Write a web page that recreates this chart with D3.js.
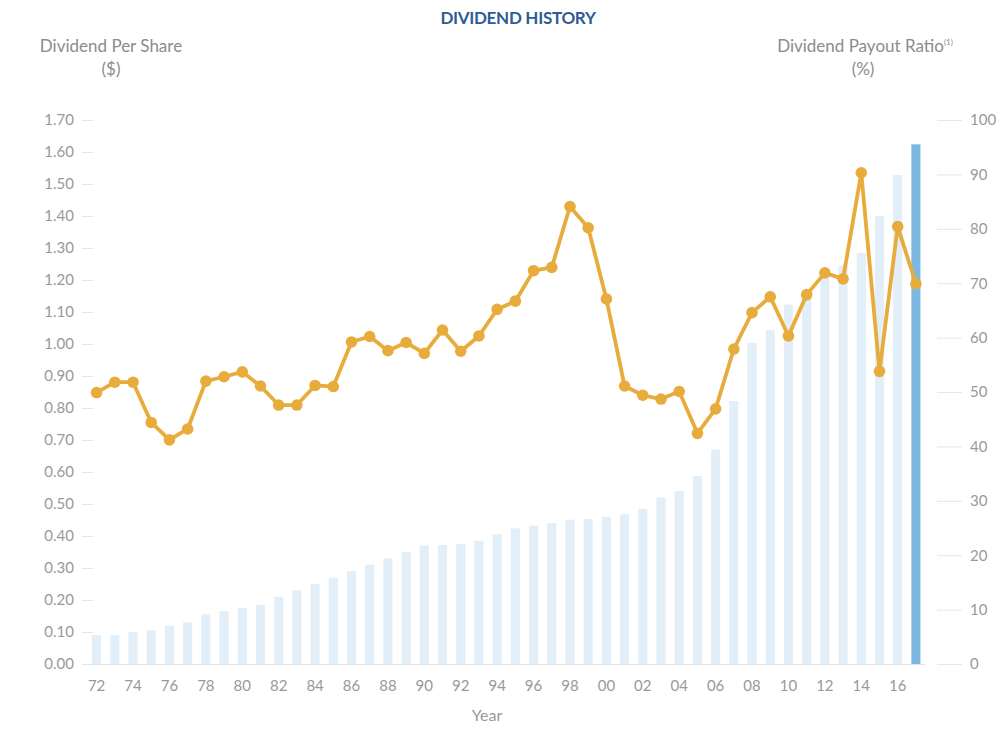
<!DOCTYPE html>
<html>
<head>
<meta charset="utf-8">
<script src="https://cdn.jsdelivr.net/npm/d3@7"></script>
<style>
  body { margin: 0; background: #fff; }
  text { font-family: Lato, "Open Sans", sans-serif; }
</style>
</head>
<body>
<div id="wrapper"></div>
<script>
// dados
const years = d3.range(1972, 2018);
const dividendPerShare = [
  0.09, 0.09, 0.10, 0.105, 0.12, 0.13, 0.155, 0.165, 0.175, 0.185,
  0.21, 0.23, 0.25, 0.27, 0.29, 0.31, 0.33, 0.35, 0.37, 0.372,
  0.375, 0.385, 0.405, 0.424, 0.432, 0.44, 0.451, 0.453, 0.46, 0.468,
  0.485, 0.52, 0.54, 0.587, 0.67, 0.822, 1.004, 1.044, 1.123, 1.16,
  1.206, 1.245, 1.284, 1.40, 1.528, 1.624
];
const payoutRatio = [
  49.9, 51.8, 51.8, 44.4, 41.2, 43.2, 52.0, 52.8, 53.7, 51.1,
  47.6, 47.6, 51.2, 51.0, 59.2, 60.2, 57.6, 59.1, 57.1, 61.4,
  57.5, 60.3, 65.2, 66.7, 72.3, 72.9, 84.1, 80.2, 67.1, 51.1,
  49.4, 48.7, 50.1, 42.4, 46.9, 57.9, 64.6, 67.5, 60.3, 67.9,
  71.9, 70.8, 90.3, 53.8, 80.4, 69.9
];
const leftTicks = d3.range(0, 1.71, 0.1);
const rightTicks = d3.range(0, 101, 10);

function draw() {
  const width = 1005;
  const height = 734;
  const plot = { top: 120, bottom: 664, left: 87.5, right: 925 };

  const svg = d3.select("#wrapper")
    .append("svg")
    .attr("width", width)
    .attr("height", height);

  // Escalas
  const x = d3.scaleBand()
    .domain(years)
    .range([plot.left, plot.right])
    .paddingInner(0.5)
    .paddingOuter(0.25);
  const yLeft = d3.scaleLinear().domain([0, 1.7]).range([plot.bottom, plot.top]);
  const yRight = d3.scaleLinear().domain([0, 100]).range([plot.bottom, plot.top]);

  // Títulos
  svg.append("text")
    .attr("x", 518).attr("y", 24)
    .attr("text-anchor", "middle")
    .attr("font-size", 17).attr("font-weight", "bold")
    .attr("fill", "#2f5b93")
    .attr("letter-spacing", -0.3)
    .text("DIVIDEND HISTORY");

  const gray = "#8c8c8c";
  svg.append("text").attr("x", 111).attr("y", 52)
    .attr("text-anchor", "middle").attr("font-size", 17).attr("fill", gray)
    .text("Dividend Per Share");
  svg.append("text").attr("x", 111).attr("y", 75)
    .attr("text-anchor", "middle").attr("font-size", 17).attr("fill", gray)
    .text("($)");
  const rt = svg.append("text").attr("x", 865).attr("y", 52)
    .attr("text-anchor", "middle").attr("font-size", 17).attr("fill", gray);
  rt.append("tspan").text("Dividend Payout Ratio");
  rt.append("tspan").attr("font-size", 8).attr("dy", -7).text("(1)");
  svg.append("text").attr("x", 863).attr("y", 75)
    .attr("text-anchor", "middle").attr("font-size", 17).attr("fill", gray)
    .text("(%)");

  // Eixo esquerdo
  const leftAxis = svg.append("g")
    .attr("transform", "translate(93,0)")
    .call(d3.axisLeft(yLeft).tickValues(leftTicks).tickFormat(d3.format(".2f")).tickSize(11).tickPadding(8));
  leftAxis.select(".domain").remove();
  leftAxis.selectAll(".tick line").attr("stroke", "#e6e6e6");
  leftAxis.selectAll(".tick text").attr("fill", "#999").attr("font-size", 15)
    .attr("font-family", "Lato, sans-serif");

  // Eixo direito
  const rightAxis = svg.append("g")
    .attr("transform", "translate(937,0)")
    .call(d3.axisRight(yRight).tickValues(rightTicks).tickSize(25).tickPadding(8));
  rightAxis.select(".domain").remove();
  rightAxis.selectAll(".tick line").attr("stroke", "#e6e6e6");
  rightAxis.selectAll(".tick text").attr("fill", "#999").attr("font-size", 15)
    .attr("font-family", "Lato, sans-serif");

  // Barras
  svg.append("g")
    .selectAll("rect")
    .data(years)
    .enter()
    .append("rect")
    .attr("x", d => x(d))
    .attr("width", x.bandwidth())
    .attr("y", (d, i) => yLeft(dividendPerShare[i]))
    .attr("height", (d, i) => plot.bottom - yLeft(dividendPerShare[i]))
    .attr("fill", (d, i) => i === years.length - 1 ? "#7db8e2" : "#e2eef8");

  // Linha base
  svg.append("line")
    .attr("x1", plot.left).attr("x2", plot.right)
    .attr("y1", plot.bottom + 0.5).attr("y2", plot.bottom + 0.5)
    .attr("stroke", "#dde3ea");

  // Eixo x
  const xAxis = svg.append("g")
    .attr("transform", "translate(0," + plot.bottom + ")")
    .call(d3.axisBottom(x)
      .tickValues(years.filter(d => d % 2 === 0))
      .tickFormat(d => String(d).slice(2))
      .tickSize(0).tickPadding(16));
  xAxis.select(".domain").remove();
  xAxis.selectAll(".tick text").attr("fill", "#999").attr("font-size", 15)
    .attr("font-family", "Lato, sans-serif");

  svg.append("text").attr("x", 487).attr("y", 721)
    .attr("text-anchor", "middle").attr("font-size", 16).attr("fill", "#999")
    .text("Year");

  // Linha do payout
  const line = d3.line()
    .x((d, i) => x(years[i]) + x.bandwidth() / 2)
    .y(d => yRight(d));
  svg.append("path")
    .attr("d", line(payoutRatio))
    .attr("fill", "none")
    .attr("stroke", "#e8ac3c")
    .attr("stroke-width", 3.8)
    .attr("stroke-linejoin", "round");
  svg.append("g")
    .selectAll("circle")
    .data(payoutRatio)
    .enter()
    .append("circle")
    .attr("cx", (d, i) => x(years[i]) + x.bandwidth() / 2)
    .attr("cy", d => yRight(d))
    .attr("r", 5.8)
    .attr("fill", "#e8ac3c");
}
draw();
</script>
</body>
</html>
